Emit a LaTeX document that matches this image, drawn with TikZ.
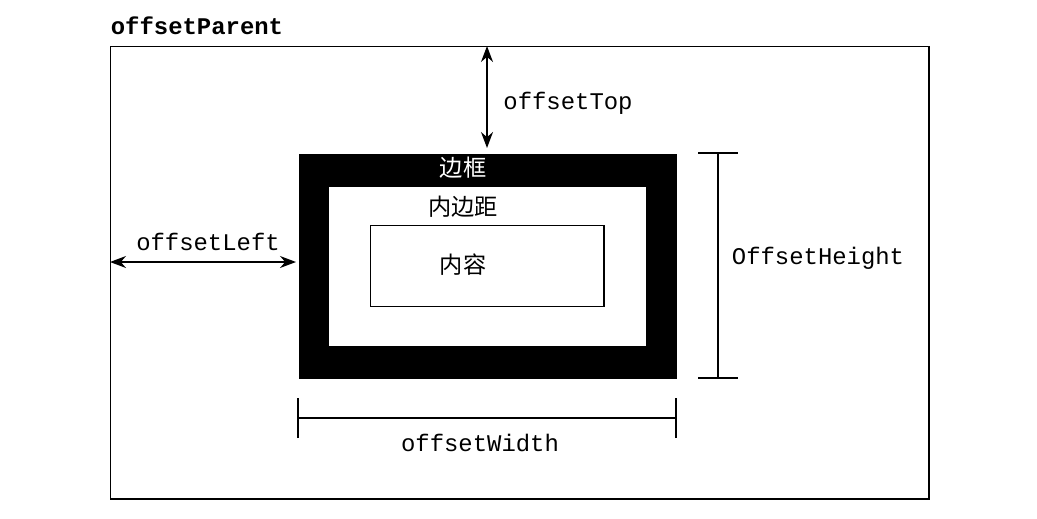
\documentclass[tikz,border=0pt]{standalone}
\usepackage{fontspec}
\setmonofont{Liberation Mono}
\newfontfamily\cjk{Noto Sans CJK SC}
\usetikzlibrary{arrows.meta, positioning}
\tikzstyle{dim} = [draw, {Stealth[length=1.6mm,width=1.2mm]}-{Stealth[length=1.6mm,width=1.2mm]}, line width=0.4pt]

\begin{document}
\begin{tikzpicture}[x=0.01cm,y=-0.01cm, lbl/.style={font=\ttfamily\fontsize{6.8}{8}\selectfont}, zh/.style={font=\cjk\fontsize{6.6}{8}\selectfont}]
    \useasboundingbox (0,0) rectangle (1037,518);

    % frames
    \node[draw, minimum width=8.18cm, minimum height=4.52cm, inner sep=0, anchor=north west] (parent) at (110,46) {};
    \node[fill=black, minimum width=3.78cm, minimum height=2.25cm, inner sep=0, anchor=north west] (border) at (298,153) {};
    \node[fill=white, minimum width=3.17cm, minimum height=1.59cm, inner sep=0, anchor=north west] (padding) at (328,186) {};
    \node[draw, minimum width=2.33cm, minimum height=0.81cm, inner sep=0, anchor=north west] (content) at (370,225) {};

    \node[lbl, font=\ttfamily\bfseries\fontsize{6.8}{8}\selectfont] (ptitle) at (197,26) {offsetParent};
    \node[zh, text=white] (tborder) at (463,168) {边框};
    \node[zh] (tpadding) at (463,207) {内边距};
    \node[zh] (tcontent) at (463,265) {内容};

    % offsets
    \coordinate (topA) at (487,46);
    \coordinate (topB) at (487,148);
    \draw[dim] (topA) -- (topB);
    \node[lbl] (ltop) at (568,103) {offsetTop};

    \coordinate (leftA) at (110,262);
    \coordinate (leftB) at (296,262);
    \draw[dim] (leftA) -- (leftB);
    \node[lbl] (lleft) at (208,242) {offsetLeft};

    \coordinate (hA) at (718,153);
    \coordinate (hB) at (718,378);
    \draw (hA) -- (hB);
    \draw ([xshift=-0.2cm]hA) -- ([xshift=0.2cm]hA);
    \draw ([xshift=-0.2cm]hB) -- ([xshift=0.2cm]hB);
    \node[lbl] (lheight) at (818,258) {OffsetHeight};

    \coordinate (wA) at (298,418);
    \coordinate (wB) at (676,418);
    \draw (wA) -- (wB);
    \draw ([yshift=-0.2cm]wA) -- ([yshift=0.2cm]wA);
    \draw ([yshift=-0.2cm]wB) -- ([yshift=0.2cm]wB);
    \node[lbl] (lwidth) at (480,443) {offsetWidth};
\end{tikzpicture}
\end{document}
